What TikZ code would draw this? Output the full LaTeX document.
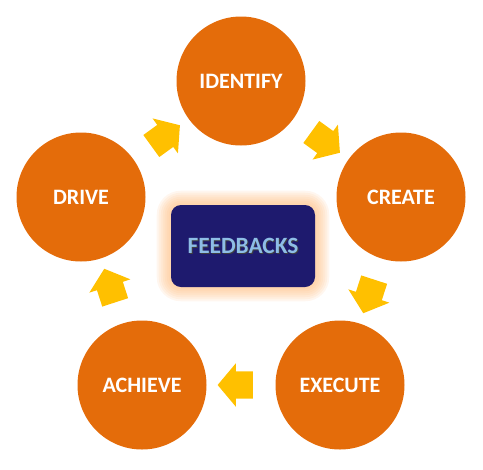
\documentclass[tikz,border=0pt]{standalone}
\usepackage{fontspec}
\setmainfont{Carlito}
\usetikzlibrary{shapes.arrows, backgrounds, calc}
\definecolor{stageorange}{RGB}{228,108,10}
\definecolor{flowgold}{RGB}{255,192,0}
\definecolor{fbnavy}{RGB}{30,26,110}
\definecolor{fbtext}{RGB}{142,190,230}
\definecolor{fbglow}{RGB}{255,185,120}

\begin{document}
\begin{tikzpicture}[x=0.75pt, y=-0.75pt,
    stage/.style={circle, fill=stageorange, minimum size=96.75pt, inner sep=0pt,
                  text=white, font=\fontsize{16.5}{18}\selectfont\bfseries},
    flow/.style={single arrow, fill=flowgold, minimum height=26.5pt,
                 single arrow head extend=6pt, single arrow tip angle=100,
                 inner xsep=0pt, inner ysep=10pt, sloped, allow upside down},
    hub/.style={rectangle, rounded corners=7.5pt, fill=fbnavy, minimum width=108pt,
                minimum height=61.5pt},
    hubtext/.style={font=\fontsize{17.5}{19}\selectfont\bfseries}]

\useasboundingbox (0,0) rectangle (483,469);

%% Stages of the cycle
\node[stage] (identify) at (241,81)  {IDENTIFY};
\node[stage] (create)   at (401,197) {CREATE};
\node[stage] (execute)  at (340,385) {EXECUTE};
\node[stage] (achieve)  at (142,385) {ACHIEVE};
\node[stage] (drive)    at (81,197)  {DRIVE};

%% Centre box
\node[hub] (feedbacks) at (243,246) {};
\node[hubtext, text=black!75] (fbshadow) at ($(feedbacks)+(1,1)$) {FEEDBACKS};
\node[hubtext, text=fbtext]   (fblabel)  at (feedbacks) {FEEDBACKS};

%% Glow round the centre box
\begin{scope}[on background layer]
\foreach \g in {14,12,...,2}
    \fill[fbglow, opacity=0.12, rounded corners={(10+\g)*0.75pt}]
        ($(feedbacks.south west)+(-\g,\g)$) rectangle ($(feedbacks.north east)+(\g,-\g)$);
\end{scope}

%% Block arrows between stages
\path (drive)    -- node[flow] (f1) {} (identify);
\path (identify) -- node[flow] (f2) {} (create);
\path (create)   -- node[flow] (f3) {} (execute);
\path (execute)  -- node[flow] (f4) {} (achieve);
\path (achieve)  -- node[flow] (f5) {} (drive);

\end{tikzpicture}
\end{document}
